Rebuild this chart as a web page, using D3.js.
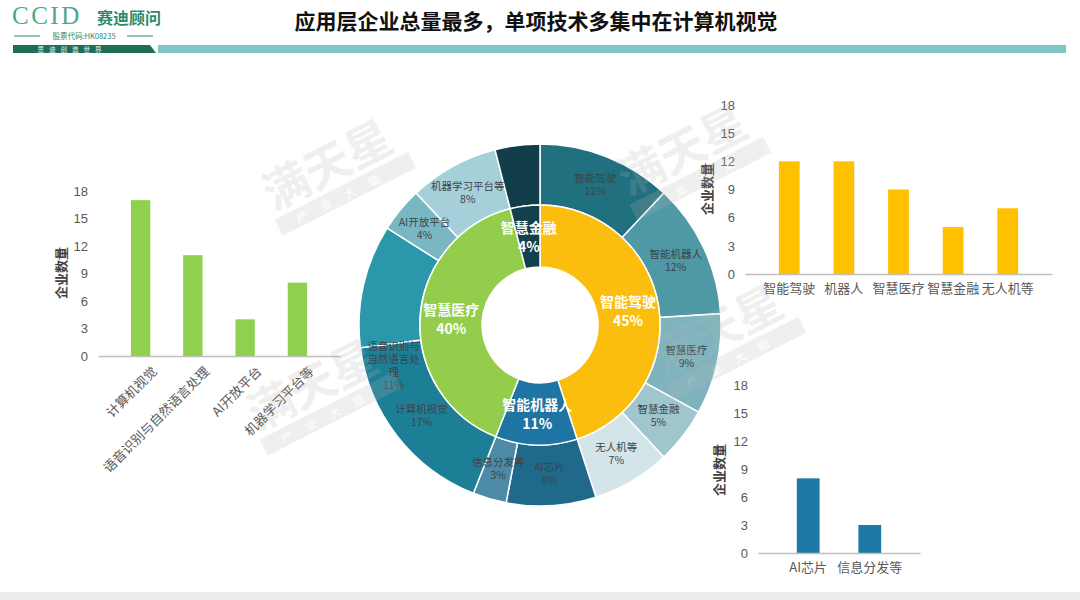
<!DOCTYPE html>
<html>
<head>
<meta charset="utf-8">
<script src="https://cdn.jsdelivr.net/npm/d3@7"></script>
<style>
  body { margin: 0; background: #fff; }
  svg { display: block; font-family: "Liberation Sans", "Noto Sans CJK SC", sans-serif; }
</style>
</head>
<body>
<script>
// ---- data ----
var innerNames = ['智能驾驶', '智能机器人', '智慧医疗', '智慧金融'];
var innerValues = [45, 11, 40, 4];
var innerColors = ['#fbbd0e', '#1e74a3', '#93cd4b', '#143f4c'];

var outerNames = ['智能驾驶', '智能机器人', '智慧医疗', '智慧金融', '无人机等',
                  'AI芯片', '信息分发等',
                  '计算机视觉', '语音识别与|自然语言处|理', 'AI开放平台', '机器学习平台等',
                  ''];
var outerValues = [12, 12, 9, 5, 7, 8, 3, 17, 11, 4, 8, 4];
var outerColors = ['#21707f', '#4f98a6', '#7fb4bf', '#9fc5cd', '#d3e5e9',
                   '#1f6a8a', '#4c8aa6',
                   '#1d7f96', '#2b97ab', '#79b7c3', '#a5d0d9',
                   '#123e4b'];
// label nudges (px down), Excel pushed the wrapped label towards the slice edge
var outerLabelShift = [0, 0, 0, 0, 0, 0, 0, 0, 74, 0, 0, 0];

var techCats = ['计算机视觉', '语音识别与自然语言处理', 'AI开放平台', '机器学习平台等'];
var techValues = [17, 11, 4, 8];

var appCats = ['智能驾驶', '机器人', '智慧医疗', '智慧金融', '无人机等'];
var appValues = [12, 12, 9, 5, 7];

var baseCats = ['AI芯片', '信息分发等'];
var baseValues = [8, 3];

var yTicks = [0, 3, 6, 9, 12, 15, 18];

var svg = d3.select('body').append('svg')
	.attr('width', 1080)
	.attr('height', 600);

/*
/	HEADER
*/
var header = svg.append('g');
header.append('text')
	.attr('x', 12).attr('y', 24)
	.attr('font-family', 'Liberation Serif, DejaVu Serif, serif')
	.attr('font-size', 25)
	.attr('fill', '#4aa88a')
	.attr('letter-spacing', 2.5)
	.text('CCID');
header.append('text')
	.attr('x', 97).attr('y', 24)
	.attr('font-family', 'Noto Sans CJK SC')
	.attr('font-weight', 700)
	.attr('font-size', 16)
	.attr('fill', '#2e8a6c')
	.text('赛迪顾问');
header.append('line').attr('x1', 14).attr('x2', 40).attr('y1', 36).attr('y2', 36).attr('stroke', '#2e8a6c');
header.append('line').attr('x1', 127).attr('x2', 153).attr('y1', 36).attr('y2', 36).attr('stroke', '#2e8a6c');
header.append('text')
	.attr('x', 84).attr('y', 39)
	.attr('text-anchor', 'middle')
	.attr('font-family', 'Noto Sans CJK SC')
	.attr('font-size', 7.5)
	.attr('fill', '#2e8a6c')
	.text('股票代码:HK08235');
header.append('path')
	.attr('d', 'M13,45 L150,45 L156,53 L13,53 Z')
	.attr('fill', '#1f6e57');
header.append('text')
	.attr('x', 72).attr('y', 51.5)
	.attr('text-anchor', 'middle')
	.attr('font-family', 'Noto Sans CJK SC')
	.attr('font-size', 6.5)
	.attr('fill', '#e8f3ef')
	.attr('letter-spacing', 5)
	.text('思迪创造世界');
header.append('rect')
	.attr('x', 158).attr('y', 45)
	.attr('width', 908).attr('height', 8)
	.attr('fill', '#80c4c5');
header.append('text')
	.attr('x', 536).attr('y', 29)
	.attr('text-anchor', 'middle')
	.attr('font-family', 'Noto Sans CJK SC')
	.attr('font-weight', 700)
	.attr('font-size', 21)
	.attr('fill', '#111')
	.text('应用层企业总量最多，单项技术多集中在计算机视觉');

svg.append('rect')
	.attr('x', 0).attr('y', 592)
	.attr('width', 1080).attr('height', 8)
	.attr('fill', '#ececec');

/*
/	DONUT
*/
var cx = 540, cy = 325;
var donut = svg.append('g').attr('transform', 'translate(' + cx + ',' + cy + ')');
var pie = d3.pie().sort(null).value(function(d){ return d; });

var innerArc = d3.arc().innerRadius(58).outerRadius(120);
var outerArc = d3.arc().innerRadius(120).outerRadius(181);

var innerPie = pie(innerValues);
var outerPie = pie(outerValues);

donut.selectAll('path.outer').data(outerPie).enter().append('path')
	.attr('class', 'outer')
	.attr('d', outerArc)
	.attr('fill', function(d, i){ return outerColors[i]; })
	.attr('stroke', '#fff')
	.attr('stroke-width', 1.5);

donut.selectAll('path.inner').data(innerPie).enter().append('path')
	.attr('class', 'inner')
	.attr('d', innerArc)
	.attr('fill', function(d, i){ return innerColors[i]; })
	.attr('stroke', '#fff')
	.attr('stroke-width', 1.5);

// outer labels
var outerLabelArc = d3.arc().innerRadius(150).outerRadius(150);
outerPie.forEach(function(d, i){
	if (!outerNames[i]) return;
	var c = outerLabelArc.centroid(d);
	var lines = outerNames[i].split('|').concat([d.data + '%']);
	var t = donut.append('text')
		.attr('text-anchor', 'middle')
		.attr('font-family', 'Noto Sans CJK SC')
		.attr('font-size', 10.5)
		.attr('fill', '#3d4448');
	var top = c[1] + outerLabelShift[i] - (lines.length - 1) * 6.5 + 3;
	lines.forEach(function(l, k){
		t.append('tspan')
			.attr('x', c[0])
			.attr('y', top + k * 13)
			.text(l);
	});
});

// inner labels
var innerLabelArc = d3.arc().innerRadius(89).outerRadius(89);
innerPie.forEach(function(d, i){
	var c = innerLabelArc.centroid(d);
	var t = donut.append('text')
		.attr('text-anchor', 'middle')
		.attr('font-family', 'Noto Sans CJK SC')
		.attr('font-weight', 700)
		.attr('font-size', 14)
		.attr('fill', '#fff');
	t.append('tspan').attr('x', c[0]).attr('y', c[1] - 4).text(innerNames[i]);
	t.append('tspan').attr('x', c[0]).attr('y', c[1] + 15).text(d.data + '%');
});

/*
/	BAR CHARTS
*/
function barChart(opts){
	var g = svg.append('g');
	var x = d3.scaleBand().domain(opts.cats).range([opts.x0, opts.x1]).padding(opts.pad);
	var y = d3.scaleLinear().domain([0, 18]).range([opts.y0, opts.y1]);

	g.selectAll('rect').data(opts.values).enter().append('rect')
		.attr('x', function(d, i){ return x(opts.cats[i]); })
		.attr('y', function(d){ return y(d); })
		.attr('width', x.bandwidth())
		.attr('height', function(d){ return y(0) - y(d); })
		.attr('fill', opts.color);

	var yAxis = g.append('g')
		.attr('transform', 'translate(' + (opts.x0 - 4) + ',0)')
		.call(d3.axisLeft(y).tickValues(yTicks).tickSize(0).tickPadding(6));
	yAxis.select('.domain').remove();
	yAxis.selectAll('text')
		.attr('font-family', 'Liberation Sans, Arial, sans-serif')
		.attr('font-size', 13)
		.attr('fill', '#595959');

	var xAxis = g.append('g')
		.attr('transform', 'translate(0,' + opts.y0 + ')')
		.call(d3.axisBottom(x).tickSize(0).tickPadding(10));
	xAxis.select('.domain').attr('stroke', '#bfbfbf').attr('stroke-width', 1.5);
	xAxis.selectAll('text')
		.attr('font-family', 'Noto Sans CJK SC')
		.attr('font-size', 13)
		.attr('fill', '#595959');
	if (opts.rotate) {
		xAxis.selectAll('text')
			.attr('text-anchor', 'end')
			.attr('dy', '0.35em')
			.attr('transform', 'translate(7,6) rotate(-45)');
	}

	g.append('text')
		.attr('transform', 'translate(' + opts.tx + ',' + opts.ty + ') rotate(-90)')
		.attr('text-anchor', 'middle')
		.attr('dy', '0.35em')
		.attr('font-family', 'Noto Sans CJK SC')
		.attr('font-weight', 700)
		.attr('font-size', 13)
		.attr('fill', '#404040')
		.text('企业数量');
}

barChart({ cats: techCats, values: techValues, color: '#8fd14f',
	x0: 98, x1: 340, y0: 356, y1: 191, pad: 0.63, rotate: true, tx: 61, ty: 273 });

barChart({ cats: appCats, values: appValues, color: '#ffc000',
	x0: 745, x1: 1052, y0: 274, y1: 105, pad: 0.62, rotate: false, tx: 707, ty: 189 });

barChart({ cats: baseCats, values: baseValues, color: '#1f79a6',
	x0: 758, x1: 920, y0: 553, y1: 385, pad: 0.63, rotate: false, tx: 719, ty: 470 });

/*
/	WATERMARKS
*/
var marks = [[335, 180], [690, 165], [320, 400], [725, 345]];
marks.forEach(function(m){
	var w = svg.append('g')
		.attr('transform', 'translate(' + m[0] + ',' + m[1] + ') rotate(-27)')
		.attr('opacity', 0.2)
		.style('pointer-events', 'none');
	w.append('text')
		.attr('text-anchor', 'middle')
		.attr('font-family', 'Noto Sans CJK SC')
		.attr('font-weight', 700)
		.attr('font-size', 46)
		.attr('fill', '#b5b5b5')
		.text('满天星');
	w.append('rect')
		.attr('x', -72).attr('y', 8)
		.attr('width', 150).attr('height', 18)
		.attr('fill', '#b5b5b5');
	w.append('text')
		.attr('x', 2).attr('y', 22)
		.attr('text-anchor', 'middle')
		.attr('font-family', 'Noto Sans CJK SC')
		.attr('font-size', 11)
		.attr('letter-spacing', 16)
		.attr('fill', '#fff')
		.text('产业大脑');
});
</script>
</body>
</html>
